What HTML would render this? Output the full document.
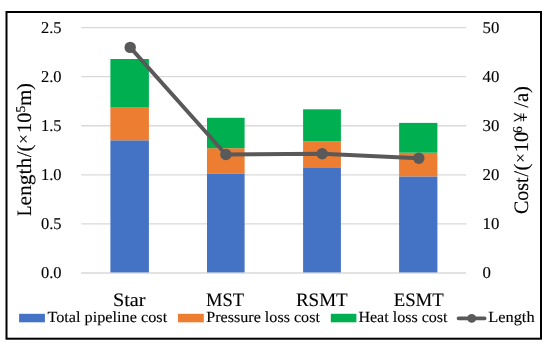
<!DOCTYPE html>
<html><head><meta charset="utf-8"><title>Chart</title>
<style>html,body{margin:0;padding:0;background:#fff}body{width:550px;height:349px;overflow:hidden}</style></head>
<body>
<svg width="550" height="349" viewBox="0 0 550 349" style="display:block;font-family:'Liberation Serif','DejaVu Serif',serif;text-rendering:geometricPrecision">
<rect x="0" y="0" width="550" height="349" fill="#fff"/>
<rect x="6.5" y="12" width="534.5" height="326.7" fill="none" stroke="#000" stroke-width="2"/>
<line x1="81.2" x2="466.2" y1="273.00" y2="273.00" stroke="#D9D9D9" stroke-width="1.3"/>
<line x1="81.2" x2="466.2" y1="223.92" y2="223.92" stroke="#D9D9D9" stroke-width="1.3"/>
<line x1="81.2" x2="466.2" y1="174.84" y2="174.84" stroke="#D9D9D9" stroke-width="1.3"/>
<line x1="81.2" x2="466.2" y1="125.76" y2="125.76" stroke="#D9D9D9" stroke-width="1.3"/>
<line x1="81.2" x2="466.2" y1="76.68" y2="76.68" stroke="#D9D9D9" stroke-width="1.3"/>
<line x1="81.2" x2="466.2" y1="27.60" y2="27.60" stroke="#D9D9D9" stroke-width="1.3"/>
<rect x="110.4" y="140.3" width="38.5" height="132.1" fill="#4472C4"/>
<rect x="110.4" y="107.6" width="38.5" height="32.7" fill="#ED7D31"/>
<rect x="110.4" y="59.0" width="38.5" height="48.6" fill="#00B050"/>
<rect x="207.0" y="173.4" width="37.6" height="99.0" fill="#4472C4"/>
<rect x="207.0" y="148.2" width="37.6" height="25.2" fill="#ED7D31"/>
<rect x="207.0" y="117.8" width="37.6" height="30.4" fill="#00B050"/>
<rect x="303.1" y="167.3" width="37.8" height="105.1" fill="#4472C4"/>
<rect x="303.1" y="141.2" width="37.8" height="26.1" fill="#ED7D31"/>
<rect x="303.1" y="109.3" width="37.8" height="31.9" fill="#00B050"/>
<rect x="399.1" y="176.4" width="38.3" height="96.0" fill="#4472C4"/>
<rect x="399.1" y="152.7" width="38.3" height="23.7" fill="#ED7D31"/>
<rect x="399.1" y="122.9" width="38.3" height="29.8" fill="#00B050"/>
<polyline fill="none" stroke="#595959" stroke-width="3.9" stroke-linejoin="round" stroke-linecap="round" points="130.2,47.4 225.9,154.5 322.2,153.7 418.8,158.2"/>
<circle cx="130.2" cy="47.4" r="5.7" fill="#595959"/>
<circle cx="225.9" cy="154.5" r="5.7" fill="#595959"/>
<circle cx="322.2" cy="153.7" r="5.7" fill="#595959"/>
<circle cx="418.8" cy="158.2" r="5.7" fill="#595959"/>
<text x="41.0" y="278.0" font-size="16.6" text-anchor="start" textLength="20.6" lengthAdjust="spacingAndGlyphs" fill="#000" stroke="#000" stroke-width="0.12">0.0</text>
<text x="41.0" y="228.92" font-size="16.6" text-anchor="start" textLength="20.6" lengthAdjust="spacingAndGlyphs" fill="#000" stroke="#000" stroke-width="0.12">0.5</text>
<text x="41.0" y="179.84" font-size="16.6" text-anchor="start" textLength="20.6" lengthAdjust="spacingAndGlyphs" fill="#000" stroke="#000" stroke-width="0.12">1.0</text>
<text x="41.0" y="130.76" font-size="16.6" text-anchor="start" textLength="20.6" lengthAdjust="spacingAndGlyphs" fill="#000" stroke="#000" stroke-width="0.12">1.5</text>
<text x="41.0" y="81.68" font-size="16.6" text-anchor="start" textLength="20.6" lengthAdjust="spacingAndGlyphs" fill="#000" stroke="#000" stroke-width="0.12">2.0</text>
<text x="41.0" y="32.6" font-size="16.6" text-anchor="start" textLength="20.6" lengthAdjust="spacingAndGlyphs" fill="#000" stroke="#000" stroke-width="0.12">2.5</text>
<text x="482.6" y="278.0" font-size="16.6" text-anchor="start" textLength="8.4" lengthAdjust="spacingAndGlyphs" fill="#000" stroke="#000" stroke-width="0.12">0</text>
<text x="482.6" y="228.92" font-size="16.6" text-anchor="start" textLength="16.8" lengthAdjust="spacingAndGlyphs" fill="#000" stroke="#000" stroke-width="0.12">10</text>
<text x="482.6" y="179.84" font-size="16.6" text-anchor="start" textLength="16.8" lengthAdjust="spacingAndGlyphs" fill="#000" stroke="#000" stroke-width="0.12">20</text>
<text x="482.6" y="130.76" font-size="16.6" text-anchor="start" textLength="16.8" lengthAdjust="spacingAndGlyphs" fill="#000" stroke="#000" stroke-width="0.12">30</text>
<text x="482.6" y="81.68" font-size="16.6" text-anchor="start" textLength="16.8" lengthAdjust="spacingAndGlyphs" fill="#000" stroke="#000" stroke-width="0.12">40</text>
<text x="482.6" y="32.6" font-size="16.6" text-anchor="start" textLength="16.8" lengthAdjust="spacingAndGlyphs" fill="#000" stroke="#000" stroke-width="0.12">50</text>
<text x="112.9" y="305.7" font-size="19" text-anchor="start" textLength="32.6" lengthAdjust="spacingAndGlyphs" fill="#000" stroke="#000" stroke-width="0.12">Star</text>
<text x="206.0" y="305.7" font-size="19" text-anchor="start" textLength="38.0" lengthAdjust="spacingAndGlyphs" fill="#000" stroke="#000" stroke-width="0.12">MST</text>
<text x="295.9" y="305.7" font-size="19" text-anchor="start" textLength="51.8" lengthAdjust="spacingAndGlyphs" fill="#000" stroke="#000" stroke-width="0.12">RSMT</text>
<text x="393.7" y="305.7" font-size="19" text-anchor="start" textLength="50.1" lengthAdjust="spacingAndGlyphs" fill="#000" stroke="#000" stroke-width="0.12">ESMT</text>
<rect x="19.1" y="313.8" width="25.8" height="8.5" fill="#4472C4"/>
<rect x="178.0" y="313.8" width="25.8" height="8.5" fill="#ED7D31"/>
<rect x="330.8" y="313.8" width="25.6" height="8.5" fill="#00B050"/>
<line x1="458.5" x2="484.7" y1="318.4" y2="318.4" stroke="#595959" stroke-width="3.6" stroke-linecap="round"/>
<circle cx="471.7" cy="318.4" r="4.4" fill="#595959"/>
<g transform="translate(0,0.4)">
<text x="47.4" y="322.0" font-size="15.4" text-anchor="start" textLength="119.8" lengthAdjust="spacingAndGlyphs" fill="#000" stroke="#000" stroke-width="0.12">Total pipeline cost</text>
<text x="206.3" y="322.0" font-size="15.4" text-anchor="start" textLength="113.6" lengthAdjust="spacingAndGlyphs" fill="#000" stroke="#000" stroke-width="0.12">Pressure loss cost</text>
<text x="358.4" y="322.0" font-size="15.4" text-anchor="start" textLength="89.2" lengthAdjust="spacingAndGlyphs" fill="#000" stroke="#000" stroke-width="0.12">Heat loss cost</text>
<text x="488.2" y="322.0" font-size="15.4" text-anchor="start" textLength="46.4" lengthAdjust="spacingAndGlyphs" fill="#000" stroke="#000" stroke-width="0.12">Length</text>
</g>
<g transform="translate(30.6,215.8) rotate(-90)"><text y="0" font-size="20.5" stroke="#000" stroke-width="0.12"><tspan x="-0.2" textLength="10.4" lengthAdjust="spacingAndGlyphs">L</tspan><tspan x="10.2" textLength="47.8" lengthAdjust="spacingAndGlyphs">ength</tspan><tspan x="58.6">/(</tspan><tspan font-size="17" dx="1" dy="-1.4">×</tspan><tspan dx="1" dy="1.4">10</tspan><tspan font-size="13.5" dy="-6">5</tspan><tspan dy="6">m)</tspan></text></g>
<g transform="translate(527.7,213.1) rotate(-90)"><text y="0" font-size="20.5" stroke="#000" stroke-width="0.12"><tspan x="-1.0" textLength="36.6" lengthAdjust="spacingAndGlyphs">Cost</tspan><tspan x="36.3">/</tspan><tspan x="42.5">(</tspan><tspan font-size="17" dx="1" dy="-1.4">×</tspan><tspan dx="1" dy="1.4">10</tspan><tspan font-size="13.5" dx="-1.2" dy="-6">6</tspan><tspan x="91.0" dy="5.1" font-size="19.2" textLength="9.3" lengthAdjust="spacingAndGlyphs" font-family="'Liberation Sans','Noto Sans CJK SC',sans-serif" stroke="#fff" stroke-width="0.25">¥</tspan><tspan x="105.3" dy="0.9">/a)</tspan></text></g>
</svg>
</body></html>
